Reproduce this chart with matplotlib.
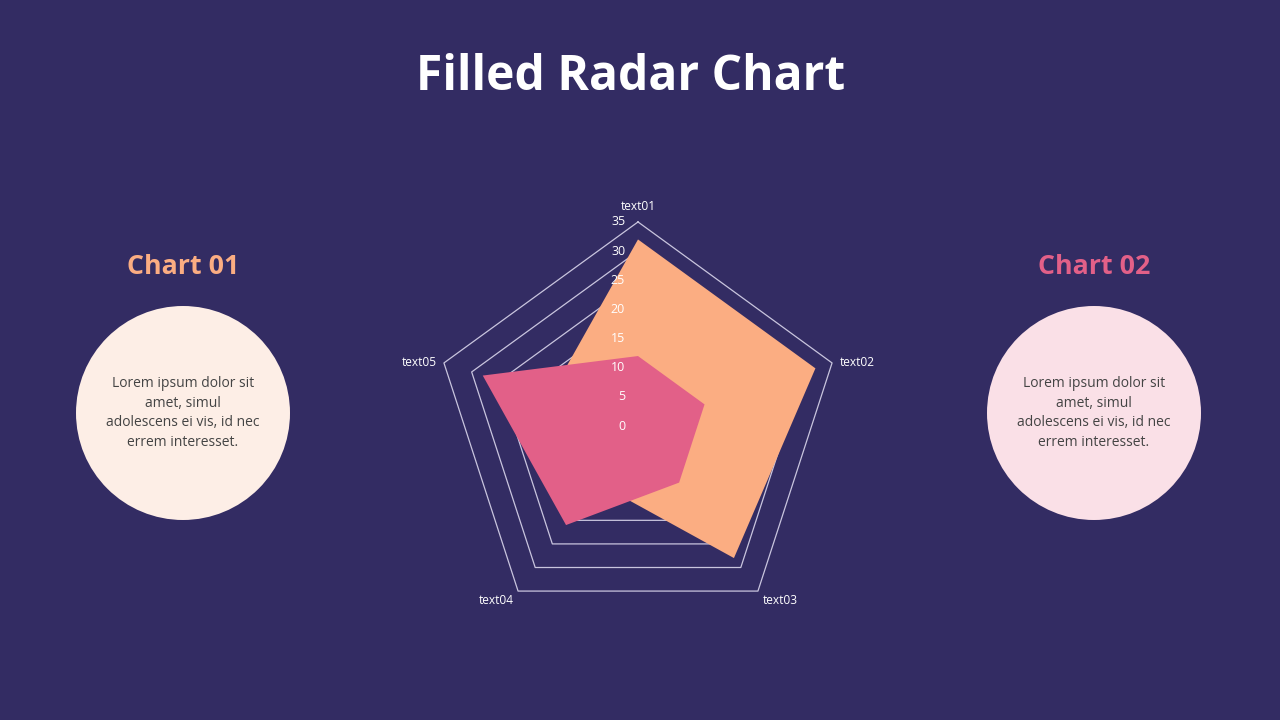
import numpy as np
import matplotlib
matplotlib.use("Agg")
import matplotlib.pyplot as plt
from matplotlib.patches import Ellipse

# ---- data ----
categories = ["text01", "text02", "text03", "text04", "text05"]
chart01_values = [32, 32, 28, 12, 16]
chart02_values = [12, 12, 12, 21, 28]
r_ticks = [0, 5, 10, 15, 20, 25, 30, 35]
r_max = 35
title = "Filled Radar Chart"
side_titles = ["Chart 01", "Chart 02"]
body_text = "Lorem ipsum dolor sit\namet, simul\nadolescens ei vis, id nec\nerrem interesset."

BG = "#332C63"
ORANGE = "#FBAD82"
PINK = "#E26088"
GRID = "#C9C5DE"

W, H = 1280, 720
fig = plt.figure(figsize=(W / 100, H / 100), dpi=100, facecolor=BG)

# title
fig.text(631 / W, 1 - 77 / H, title, ha="center", va="center", color="white",
         fontsize=34.6, fontweight="bold", family="Open Sans")

# side panels
for cx, col, circ_col, lab in [(183, ORANGE, "#FDEEE6", side_titles[0]),
                                (1094, PINK, "#FAE0E7", side_titles[1])]:
    fig.text(cx / W, 1 - 267 / H, lab, ha="center", va="center", color=col,
             fontsize=19.3, fontweight="bold", family="Open Sans")
    fig.patches.append(Ellipse((cx / W, 1 - 413 / H), 214 / W, 214 / H,
                               transform=fig.transFigure,
                               facecolor=circ_col, edgecolor="none"))
    fig.text(cx / W, 1 - 413 / H, body_text, ha="center", va="center", color="#444444",
             fontsize=10, family="Open Sans", linespacing=1.45)

# radar axes (cartesian, equal aspect)
scale = 5.83  # px per unit
cx0, cy0 = 638, 426
half = 42 * scale
ax = fig.add_axes([(cx0 - half) / W, (H - cy0 - half) / H, 2 * half / W, 2 * half / H])
ax.set_xlim(-42, 42)
ax.set_ylim(-42, 42)
ax.set_aspect("equal")
ax.axis("off")

n = len(categories)
angles = np.pi / 2 - np.arange(n) * 2 * np.pi / n
cosa, sina = np.cos(angles), np.sin(angles)

def poly(vals):
    v = np.asarray(vals, dtype=float)
    x = v * cosa
    y = v * sina
    return np.append(x, x[0]), np.append(y, y[0])

for r in r_ticks[1:]:
    x, y = poly([r] * n)
    ax.plot(x, y, color=GRID, lw=0.9, zorder=1)

x, y = poly(chart01_values)
ax.fill(x, y, color=ORANGE, lw=0, zorder=2)
x, y = poly(chart02_values)
ax.fill(x, y, color=PINK, lw=0, zorder=3)

for r in r_ticks:
    ax.text(-2.2, r, str(r), ha="right", va="center", color="white", fontsize=9,
            family="Open Sans", zorder=5)

offs = [(0, 1.6, "center", "bottom"), (1.3, 0, "left", "center"),
        (3.8, -0.5, "center", "top"), (-3.8, -0.5, "center", "top"),
        (-1.3, 0, "right", "center")]
for i, lab in enumerate(categories):
    dx, dy, ha, va = offs[i]
    ax.text(r_max * cosa[i] + dx, r_max * sina[i] + dy, lab, ha=ha, va=va,
            color="white", fontsize=8.6, family="Open Sans", zorder=5)

fig.savefig("out.png", dpi=100, facecolor=BG)
